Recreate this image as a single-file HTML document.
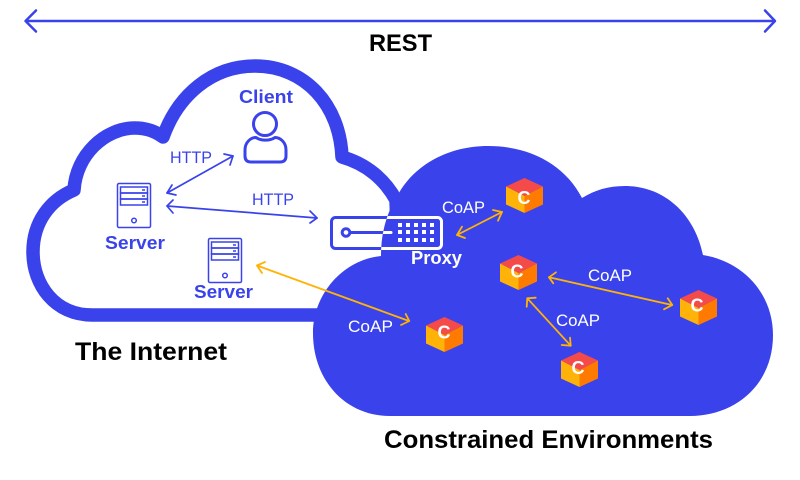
<!DOCTYPE html>
<html><head><meta charset="utf-8"><style>
html,body{margin:0;padding:0;background:#fff}
svg{display:block}
text{font-family:"Liberation Sans",sans-serif}
</style></head><body>
<svg width="800" height="480" viewBox="0 0 800 480" xmlns="http://www.w3.org/2000/svg">
<defs>
<clipPath id="cc"><path d="M399,193 C415,165 448,146 488,146 C530,146 565,165 582,198 C595,190 608,186 625,186 C665,186 695,215 703,255 C745,262 773,295 773,335 C773,385 735,416 690,416 L390,416 C345,416 313,380 313,333 C313,295 342,260 381,256 C381,230 388,210 399,193 Z"/></clipPath>
<g id="proxy" fill="none" stroke-width="3">
<rect x="331.500" y="217.500" width="110" height="31" rx="4"/>
<circle cx="346" cy="232.500" r="3.800"/>
<path d="M350,232.500 H391" stroke-linecap="round"/>
</g>
<g id="srv" fill="none" stroke="#3a43eb" stroke-width="1.500">
<rect x="117.500" y="183.500" width="33" height="44" rx="1.500"/>
<rect x="120.500" y="187" width="27" height="6"/>
<rect x="120.500" y="193" width="27" height="6"/>
<rect x="120.500" y="199" width="27" height="6"/>
<circle cx="134" cy="220.500" r="2.300"/>
<path d="M142,190 h3 M142,196 h3 M142,202 h3"/>
</g>
<g id="cube">
<polygon points="18.500,0 37,8.500 18.500,18 0,8.500" fill="#f54a4a"/>
<polygon points="0,8.500 18.500,18 18.500,35 0,26.500" fill="#ffb308"/>
<polygon points="37,8.500 18.500,18 18.500,35 37,26.500" fill="#ff7a00"/>
</g>
</defs>
<rect width="800" height="480" fill="#fff"/>

<!-- REST -->
<g fill="none" stroke="#3a43eb" stroke-width="2.500" stroke-linecap="round" stroke-linejoin="round">
<path d="M26,21 H774"/>
<path d="M36,10.500 L25.500,21 L36,31.500"/>
<path d="M765,10.500 L775,21 L765,31.500"/>
</g>
<text x="369" y="51" font-size="24" font-weight="700" fill="#000" textLength="63" lengthAdjust="spacingAndGlyphs">REST</text>

<!-- left cloud -->
<path d="M92,315 C55,315 33,285 33,252 C33,222 50,200 74,190 C76,155 105,128 135,128 C145,128 155,131 163,137 C178,95 212,66 255,66 C305,66 340,105 342,157 C367,164 385,180 396,200 L400,315 Z" fill="#fff" stroke="#3a43eb" stroke-width="13.500" stroke-linejoin="round"/>

<use href="#proxy" stroke="#3a43eb"/>

<!-- right cloud -->
<path d="M399,193 C415,165 448,146 488,146 C530,146 565,165 582,198 C595,190 608,186 625,186 C665,186 695,215 703,255 C745,262 773,295 773,335 C773,385 735,416 690,416 L390,416 C345,416 313,380 313,333 C313,295 342,260 381,256 C381,230 388,210 399,193 Z" fill="#3a43eb"/>

<!-- proxy white portion -->
<g clip-path="url(#cc)"><use href="#proxy" stroke="#fff"/></g>
<g fill="#fff">
<rect x="398" y="223" width="4" height="4"/><rect x="406" y="223" width="4" height="4"/><rect x="414" y="223" width="4" height="4"/><rect x="422" y="223" width="4" height="4"/><rect x="430" y="223" width="4" height="4"/>
<rect x="398" y="230" width="4" height="4"/><rect x="406" y="230" width="4" height="4"/><rect x="414" y="230" width="4" height="4"/><rect x="422" y="230" width="4" height="4"/><rect x="430" y="230" width="4" height="4"/>
<rect x="398" y="238" width="4" height="4"/><rect x="406" y="238" width="4" height="4"/><rect x="414" y="238" width="4" height="4"/><rect x="422" y="238" width="4" height="4"/><rect x="430" y="238" width="4" height="4"/>
</g>

<!-- servers -->
<use href="#srv"/>
<use href="#srv" x="91" y="55"/>

<!-- client -->
<g fill="none" stroke="#3a43eb" stroke-width="3">
<circle cx="265" cy="124" r="11.500"/>
<path d="M256,137.500 C251,137.500 245,142 245,150 V156 C245,160 247,162 251,162 H280 C284,162 286,160 286,156 V150 C286,142 280,137.500 275,137.500 C270,141 261,141 256,137.500 Z" stroke-linejoin="round"/>
</g>

<!-- blue arrows -->
<g fill="none" stroke="#3a43eb" stroke-width="1.700" stroke-linecap="round" stroke-linejoin="round">
<path d="M167,193 L233,156"/>
<path d="M176,195 L167,193 L172,185"/>
<path d="M224,154 L233,156 L230,165"/>
<path d="M167,206 L317,218"/>
<path d="M173,200 L167,206 L173,213"/>
<path d="M310,211 L317,218 L310,223"/>
</g>

<!-- yellow arrows -->
<g fill="none" stroke="#ffb308" stroke-width="1.800" stroke-linecap="round" stroke-linejoin="round">
<path d="M257,265.500 L409,321"/>
<path d="M265,262 L257,265.500 L262,273"/>
<path d="M405.700,314 L409.300,321 L401,325"/>
<path d="M457,235 L502,212"/>
<path d="M465,238 L457,235 L462,226.700"/>
<path d="M493,210 L502,212 L498,220.700"/>
<path d="M549,277.300 L672,305"/>
<path d="M556,272.300 L549,277.300 L553.300,283.300"/>
<path d="M667.700,298.300 L672.300,305 L664,309.300"/>
<path d="M527.300,298.300 L570.700,345.700"/>
<path d="M535.700,297.700 L527.300,298.300 L526.700,306.700"/>
<path d="M570,337.700 L570.700,345.700 L561.700,345"/>
</g>

<!-- cubes -->
<use href="#cube" x="506" y="178"/>
<use href="#cube" x="500" y="255"/>
<use href="#cube" x="680" y="290"/>
<use href="#cube" x="426" y="317"/>
<use href="#cube" x="561" y="352"/>
<g font-size="18" font-weight="700" fill="#fff" text-anchor="middle">
<text x="524" y="204">C</text>
<text x="517" y="277.500">C</text>
<text x="697" y="311.500">C</text>
<text x="444" y="338.500">C</text>
<text x="578" y="374">C</text>
</g>

<!-- labels -->
<g fill="#3a43eb" font-weight="700" font-size="18">
<text x="239" y="103" textLength="54" lengthAdjust="spacingAndGlyphs">Client</text>
<text x="105" y="249" textLength="60" lengthAdjust="spacingAndGlyphs">Server</text>
<text x="194" y="298" textLength="59" lengthAdjust="spacingAndGlyphs">Server</text>
</g>
<g fill="#3a43eb" font-size="17">
<text x="170" y="163" textLength="42" lengthAdjust="spacingAndGlyphs">HTTP</text>
<text x="252" y="205" textLength="42" lengthAdjust="spacingAndGlyphs">HTTP</text>
</g>
<text x="411" y="264" font-size="18" font-weight="700" fill="#fff" textLength="51" lengthAdjust="spacingAndGlyphs">Proxy</text>
<g fill="#fff" font-size="17">
<text x="442" y="213" textLength="43" lengthAdjust="spacingAndGlyphs">CoAP</text>
<text x="348" y="332" textLength="45" lengthAdjust="spacingAndGlyphs">CoAP</text>
<text x="588" y="281" textLength="44" lengthAdjust="spacingAndGlyphs">CoAP</text>
<text x="556" y="326" textLength="44" lengthAdjust="spacingAndGlyphs">CoAP</text>
</g>
<text x="75" y="360" font-size="25" font-weight="700" fill="#000" textLength="152" lengthAdjust="spacingAndGlyphs">The Internet</text>
<text x="384" y="448" font-size="25" font-weight="700" fill="#000" textLength="329" lengthAdjust="spacingAndGlyphs">Constrained Environments</text>
</svg>
</body></html>
